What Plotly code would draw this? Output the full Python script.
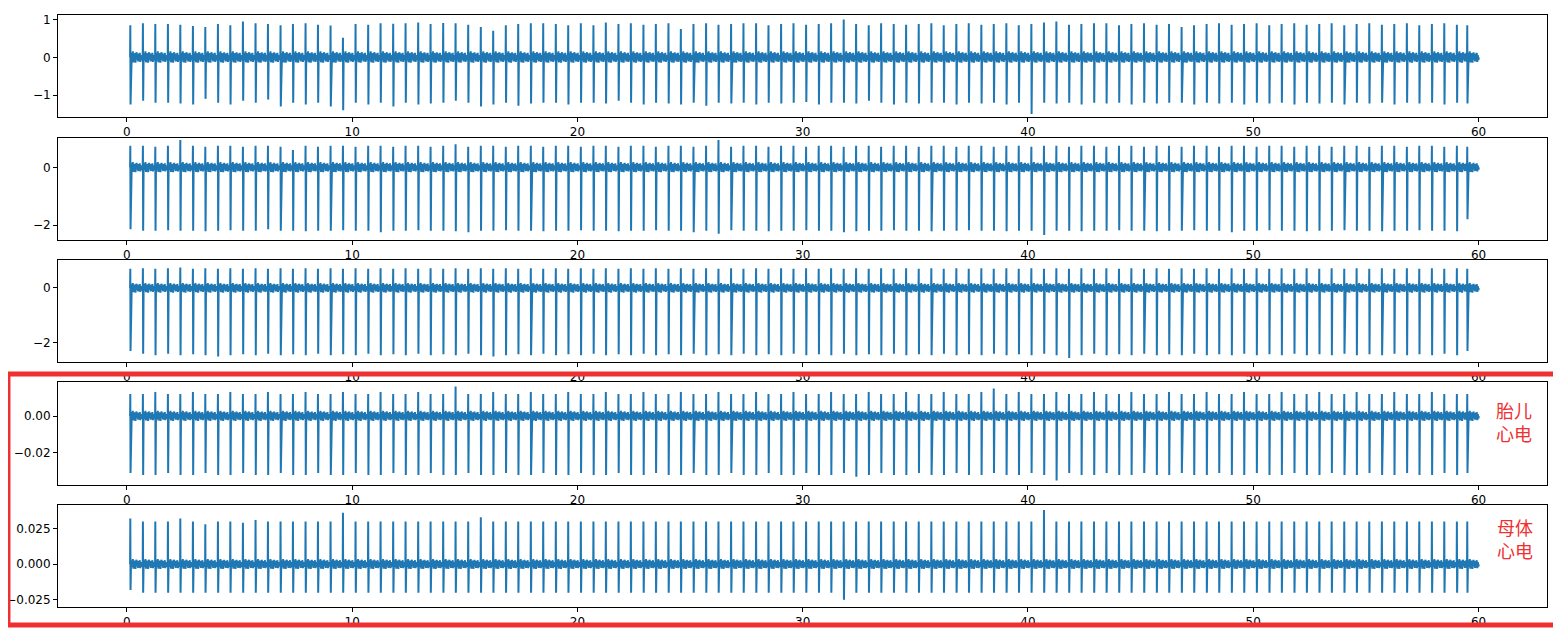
import plotly.graph_objects as go

# beat times (s)
beat_times = [0.15, 0.71, 1.26, 1.82, 2.37, 2.93, 3.48, 4.04, 4.59, 5.15, 5.71, 6.26, 6.82, 7.37, 7.93, 8.48, 9.04, 9.59,
              10.15, 10.71, 11.26, 11.82, 12.37, 12.93, 13.48, 14.04, 14.59, 15.15, 15.71, 16.26, 16.82, 17.37, 17.93, 18.48,
              19.04, 19.59, 20.15, 20.71, 21.26, 21.82, 22.37, 22.93, 23.48, 24.04, 24.59, 25.15, 25.71, 26.26, 26.82, 27.37,
              27.93, 28.48, 29.04, 29.59, 30.15, 30.71, 31.26, 31.82, 32.37, 32.93, 33.48, 34.04, 34.59, 35.15, 35.71, 36.26,
              36.82, 37.37, 37.93, 38.48, 39.04, 39.59, 40.15, 40.71, 41.26, 41.82, 42.37, 42.93, 43.48, 44.04, 44.59, 45.15,
              45.71, 46.26, 46.82, 47.37, 47.93, 48.48, 49.04, 49.59, 50.15, 50.71, 51.26, 51.82, 52.37, 52.93, 53.48, 54.04,
              54.59, 55.15, 55.71, 56.26, 56.82, 57.37, 57.93, 58.48, 59.04, 59.5]

# per-panel R-peak (up) and S (down) amplitudes, one per beat
p1_peak = [0.85, 0.9, 0.88, 0.88, 0.86, 0.83, 0.8, 0.88, 0.85, 0.95, 0.9, 0.88, 0.85, 0.88, 0.9, 0.86, 0.84, 0.52, 0.88, 0.86,
           0.9, 0.89, 0.9, 0.92, 0.88, 0.91, 0.9, 0.86, 0.8, 0.7, 0.85, 0.88, 0.9, 0.9, 0.88, 0.85, 0.9, 0.85, 0.92, 0.88,
           0.9, 0.86, 0.88, 0.9, 0.75, 0.88, 0.9, 0.86, 0.88, 0.9, 0.9, 0.85, 0.88, 0.9, 0.86, 0.88, 0.9, 1.0, 0.88, 0.85,
           0.9, 0.88, 0.86, 0.88, 0.9, 0.85, 0.88, 0.9, 0.86, 0.88, 0.9, 0.85, 0.88, 0.92, 0.95, 0.86, 0.88, 0.9, 0.9, 0.85,
           0.88, 0.9, 0.86, 0.88, 0.8, 0.85, 0.88, 0.9, 0.86, 0.88, 0.9, 0.85, 0.88, 0.9, 0.86, 0.88, 0.9, 0.85, 0.88, 0.9,
           0.86, 0.88, 0.9, 0.85, 0.88, 0.9, 0.86, 0.85]
p1_trough = [-1.25, -1.15, -1.2, -1.2, -1.22, -1.25, -1.1, -1.2, -1.25, -1.15, -1.2, -1.12, -1.3, -1.2, -1.25, -1.2, -1.3, -1.4, -1.2, -1.25,
             -1.2, -1.3, -1.2, -1.25, -1.22, -1.2, -1.15, -1.2, -1.3, -1.25, -1.2, -1.28, -1.22, -1.2, -1.2, -1.25, -1.2, -1.2, -1.22, -1.15,
             -1.2, -1.25, -1.2, -1.22, -1.25, -1.2, -1.28, -1.2, -1.22, -1.2, -1.25, -1.2, -1.22, -1.2, -1.18, -1.25, -1.2, -1.2, -1.22, -1.15,
             -1.2, -1.25, -1.2, -1.22, -1.2, -1.2, -1.25, -1.2, -1.22, -1.2, -1.25, -1.2, -1.5, -1.2, -1.22, -1.2, -1.25, -1.2, -1.22, -1.2,
             -1.25, -1.2, -1.22, -1.2, -1.2, -1.25, -1.2, -1.22, -1.2, -1.25, -1.2, -1.22, -1.2, -1.25, -1.2, -1.22, -1.2, -1.25, -1.2, -1.22,
             -1.2, -1.25, -1.2, -1.22, -1.2, -1.25, -1.2, -1.22]
p2_peak = [0.75, 0.75, 0.72, 0.75, 0.95, 0.75, 0.72, 0.75, 0.75, 0.72, 0.75, 0.75, 0.72, 0.6, 0.75, 0.72, 0.75, 0.75, 0.72, 0.75,
           0.75, 0.72, 0.75, 0.75, 0.72, 0.75, 0.8, 0.72, 0.75, 0.75, 0.72, 0.75, 0.75, 0.72, 0.75, 0.75, 0.72, 0.75, 0.75, 0.72,
           0.75, 0.75, 0.72, 0.75, 0.75, 0.72, 0.75, 0.95, 0.72, 0.75, 0.75, 0.72, 0.75, 0.75, 0.72, 0.75, 0.75, 0.72, 0.75, 0.75,
           0.72, 0.75, 0.75, 0.72, 0.75, 0.75, 0.72, 0.75, 0.75, 0.72, 0.75, 0.75, 0.72, 0.75, 0.75, 0.72, 0.75, 0.75, 0.72, 0.75,
           0.75, 0.72, 0.75, 0.75, 0.72, 0.75, 0.75, 0.72, 0.75, 0.75, 0.72, 0.75, 0.75, 0.72, 0.75, 0.75, 0.72, 0.75, 0.75, 0.72,
           0.75, 0.75, 0.72, 0.75, 0.75, 0.72, 0.75, 0.72]
p2_trough = [-2.15, -2.2, -2.2, -2.18, -2.2, -2.2, -2.22, -2.2, -2.18, -2.2, -2.2, -2.15, -2.2, -2.2, -2.22, -2.2, -2.2, -2.18, -2.2, -2.2,
             -2.25, -2.2, -2.2, -2.18, -2.2, -2.2, -2.22, -2.25, -2.2, -2.2, -2.18, -2.2, -2.2, -2.22, -2.2, -2.2, -2.18, -2.2, -2.2, -2.22,
             -2.2, -2.2, -2.18, -2.2, -2.2, -2.25, -2.2, -2.3, -2.18, -2.2, -2.2, -2.22, -2.2, -2.2, -2.18, -2.2, -2.2, -2.25, -2.22, -2.2,
             -2.2, -2.18, -2.2, -2.2, -2.22, -2.2, -2.2, -2.18, -2.2, -2.2, -2.22, -2.2, -2.2, -2.35, -2.2, -2.2, -2.22, -2.2, -2.2, -2.18,
             -2.2, -2.2, -2.22, -2.2, -2.2, -2.18, -2.2, -2.2, -2.25, -2.2, -2.2, -2.18, -2.2, -2.2, -2.22, -2.2, -2.2, -2.18, -2.2, -2.2,
             -2.22, -2.2, -2.2, -2.18, -2.2, -2.2, -2.22, -1.8]
p3_peak = [0.7, 0.72, 0.7, 0.72, 0.75, 0.7, 0.72, 0.7, 0.72, 0.7, 0.72, 0.7, 0.72, 0.7, 0.72, 0.7, 0.72, 0.7, 0.72, 0.7,
           0.72, 0.7, 0.72, 0.7, 0.72, 0.7, 0.72, 0.7, 0.72, 0.7, 0.72, 0.7, 0.72, 0.7, 0.72, 0.7, 0.72, 0.7, 0.72, 0.7,
           0.72, 0.7, 0.72, 0.7, 0.72, 0.7, 0.72, 0.7, 0.72, 0.7, 0.72, 0.7, 0.72, 0.7, 0.72, 0.7, 0.72, 0.7, 0.72, 0.7,
           0.72, 0.7, 0.72, 0.7, 0.72, 0.7, 0.72, 0.7, 0.72, 0.7, 0.72, 0.7, 0.72, 0.7, 0.72, 0.7, 0.72, 0.7, 0.72, 0.7,
           0.72, 0.7, 0.72, 0.7, 0.72, 0.7, 0.72, 0.7, 0.72, 0.7, 0.72, 0.7, 0.72, 0.7, 0.72, 0.7, 0.72, 0.7, 0.72, 0.7,
           0.72, 0.7, 0.72, 0.7, 0.72, 0.7, 0.72, 0.7]
p3_trough = [-2.3, -2.4, -2.45, -2.4, -2.45, -2.42, -2.45, -2.5, -2.45, -2.42, -2.45, -2.4, -2.45, -2.42, -2.45, -2.4, -2.45, -2.42, -2.45, -2.4,
             -2.45, -2.42, -2.45, -2.4, -2.45, -2.42, -2.45, -2.4, -2.45, -2.5, -2.45, -2.42, -2.45, -2.4, -2.45, -2.42, -2.45, -2.4, -2.45, -2.42,
             -2.45, -2.4, -2.45, -2.42, -2.45, -2.4, -2.45, -2.42, -2.45, -2.4, -2.45, -2.42, -2.45, -2.4, -2.45, -2.42, -2.45, -2.4, -2.45, -2.42,
             -2.45, -2.4, -2.45, -2.42, -2.45, -2.4, -2.45, -2.42, -2.45, -2.4, -2.45, -2.42, -2.45, -2.4, -2.45, -2.55, -2.45, -2.4, -2.45, -2.42,
             -2.45, -2.4, -2.45, -2.42, -2.45, -2.4, -2.45, -2.42, -2.45, -2.4, -2.45, -2.42, -2.45, -2.4, -2.45, -2.42, -2.45, -2.4, -2.45, -2.42,
             -2.45, -2.4, -2.45, -2.42, -2.45, -2.4, -2.45, -2.3]
p4_peak = [0.012, 0.012, 0.013, 0.012, 0.012, 0.013, 0.012, 0.012, 0.013, 0.012, 0.012, 0.013, 0.012, 0.012, 0.013, 0.012, 0.012, 0.013, 0.012, 0.012,
           0.013, 0.012, 0.012, 0.013, 0.012, 0.012, 0.016, 0.012, 0.012, 0.013, 0.012, 0.012, 0.013, 0.012, 0.012, 0.013, 0.012, 0.012, 0.013, 0.012,
           0.012, 0.013, 0.012, 0.012, 0.013, 0.012, 0.012, 0.013, 0.012, 0.012, 0.013, 0.012, 0.012, 0.013, 0.012, 0.012, 0.013, 0.012, 0.012, 0.013,
           0.012, 0.012, 0.013, 0.012, 0.012, 0.013, 0.012, 0.012, 0.013, 0.015, 0.012, 0.013, 0.012, 0.012, 0.013, 0.012, 0.012, 0.013, 0.012, 0.012,
           0.013, 0.012, 0.012, 0.013, 0.012, 0.012, 0.013, 0.012, 0.012, 0.013, 0.012, 0.012, 0.013, 0.012, 0.012, 0.013, 0.012, 0.012, 0.013, 0.012,
           0.012, 0.013, 0.012, 0.012, 0.013, 0.012, 0.012, 0.012]
p4_trough = [-0.031, -0.032, -0.032, -0.031, -0.032, -0.032, -0.031, -0.032, -0.032, -0.031, -0.032, -0.032, -0.031, -0.032, -0.032, -0.031, -0.032, -0.032, -0.031, -0.032,
             -0.032, -0.031, -0.032, -0.032, -0.031, -0.032, -0.032, -0.031, -0.032, -0.032, -0.031, -0.032, -0.032, -0.031, -0.032, -0.032, -0.031, -0.032, -0.032, -0.031,
             -0.032, -0.032, -0.031, -0.032, -0.032, -0.031, -0.032, -0.032, -0.031, -0.032, -0.032, -0.031, -0.032, -0.032, -0.031, -0.032, -0.032, -0.031, -0.033, -0.032,
             -0.031, -0.032, -0.032, -0.031, -0.032, -0.032, -0.031, -0.032, -0.032, -0.031, -0.032, -0.032, -0.031, -0.032, -0.035, -0.031, -0.032, -0.032, -0.031, -0.032,
             -0.032, -0.031, -0.032, -0.032, -0.031, -0.032, -0.032, -0.031, -0.032, -0.032, -0.031, -0.032, -0.032, -0.031, -0.032, -0.032, -0.031, -0.032, -0.032, -0.031,
             -0.032, -0.032, -0.031, -0.032, -0.032, -0.031, -0.032, -0.031]
p5_peak = [0.032, 0.03, 0.03, 0.03, 0.032, 0.03, 0.028, 0.03, 0.03, 0.029, 0.031, 0.03, 0.03, 0.03, 0.03, 0.03, 0.03, 0.036, 0.03, 0.03,
           0.03, 0.03, 0.03, 0.03, 0.03, 0.03, 0.03, 0.03, 0.033, 0.03, 0.03, 0.03, 0.03, 0.03, 0.03, 0.03, 0.03, 0.03, 0.03, 0.03,
           0.03, 0.03, 0.03, 0.03, 0.03, 0.03, 0.03, 0.03, 0.03, 0.03, 0.03, 0.03, 0.03, 0.03, 0.03, 0.03, 0.03, 0.03, 0.03, 0.03,
           0.03, 0.03, 0.03, 0.03, 0.03, 0.03, 0.03, 0.03, 0.03, 0.03, 0.03, 0.03, 0.03, 0.038, 0.03, 0.03, 0.03, 0.03, 0.03, 0.03,
           0.03, 0.03, 0.03, 0.03, 0.03, 0.03, 0.03, 0.03, 0.03, 0.03, 0.03, 0.03, 0.03, 0.03, 0.03, 0.03, 0.03, 0.03, 0.03, 0.03,
           0.03, 0.03, 0.03, 0.03, 0.03, 0.03, 0.03, 0.03]
p5_trough = [-0.018, -0.02, -0.02, -0.02, -0.02, -0.02, -0.02, -0.02, -0.02, -0.02, -0.02, -0.02, -0.02, -0.02, -0.02, -0.02, -0.02, -0.02, -0.02, -0.02,
             -0.02, -0.02, -0.02, -0.02, -0.02, -0.02, -0.02, -0.02, -0.02, -0.02, -0.02, -0.02, -0.02, -0.02, -0.02, -0.02, -0.02, -0.02, -0.02, -0.02,
             -0.02, -0.02, -0.02, -0.02, -0.02, -0.02, -0.02, -0.02, -0.02, -0.02, -0.02, -0.02, -0.02, -0.02, -0.02, -0.02, -0.02, -0.025, -0.02, -0.02,
             -0.02, -0.02, -0.02, -0.02, -0.02, -0.02, -0.02, -0.02, -0.02, -0.02, -0.02, -0.02, -0.02, -0.02, -0.02, -0.02, -0.02, -0.02, -0.02, -0.02,
             -0.02, -0.02, -0.02, -0.02, -0.02, -0.02, -0.02, -0.02, -0.02, -0.02, -0.02, -0.02, -0.02, -0.02, -0.02, -0.02, -0.02, -0.02, -0.02, -0.02,
             -0.02, -0.02, -0.02, -0.02, -0.02, -0.02, -0.02, -0.02]

# baseline wiggle between beats, as a fraction of each panel's noise level
baseline_shape = [0.2, 1.0, -0.7, 1.3, -1.1, 0.4, -0.2, 0.9, -1.2, 0.6, 1.1, -0.5, 0.3, -0.9, 0.8, -0.4, 1.0, -1.0, 0.5, -0.6, 0.0]
noise_levels = [0.12, 0.14, 0.14, 0.0022, 0.0028]

panels = [(p1_peak, p1_trough), (p2_peak, p2_trough), (p3_peak, p3_trough),
          (p4_peak, p4_trough), (p5_peak, p5_trough)]

y_ranges = [[-1.58, 1.12], [-2.52, 1.02], [-2.7, 1.02], [-0.0375, 0.0185], [-0.03, 0.0415]]
y_ticks = [[-1, 0, 1], [-2, 0], [-2, 0], [-0.02, 0.0], [-0.025, 0.0, 0.025]]
y_fmt = ["d", "d", "d", ".2f", ".3f"]

# the page body adds an 8px offset, so the figure is sized to fit inside it
OFF = 8
W, H = 1545, 620
MT, MB = 7, 21
PH = H - MT - MB
rows_px = [(15, 117), (138, 240), (260, 362), (382, 485), (505, 607)]


def py(p):
    # screenshot pixel row -> paper fraction of the plot area
    return (H - MB - (p - OFF)) / PH


fig = go.Figure()
layout = {}
for r, (peaks, troughs) in enumerate(panels):
    xs, ys = [], []
    nl = noise_levels[r]
    for i, t in enumerate(beat_times):
        xs += [t - 0.01, t, t + 0.01, t + 0.03]
        ys += [0, peaks[i], troughs[i], 0]
        step = 0.5 / len(baseline_shape)
        for k, v in enumerate(baseline_shape):
            xs.append(t + 0.04 + k * step)
            ys.append(v * nl)
    n = "" if r == 0 else str(r + 1)
    fig.add_trace(go.Scatter(x=xs, y=ys, mode="lines", line=dict(color="#1f77b4", width=2),
                             showlegend=False, xaxis="x" + n, yaxis="y" + n))
    top, bot = rows_px[r]
    common = dict(showgrid=False, zeroline=False, showline=True, mirror=True, linecolor="black",
                  ticks="outside", ticklen=4, tickcolor="black", automargin=False)
    layout["xaxis" + n] = dict(range=[-3.06, 63.04], tickvals=[0, 10, 20, 30, 40, 50, 60],
                               domain=[0, 1], anchor="y" + n, **common)
    layout["yaxis" + n] = dict(range=y_ranges[r], tickvals=y_ticks[r], tickformat=y_fmt[r],
                               domain=[py(bot), py(top)], anchor="x" + n, **common)

fig.update_layout(**layout)

fig.add_shape(type="rect", xref="paper", yref="paper", x0=-0.0336, x1=1.006, y0=py(625), y1=py(374),
              line=dict(color="#f03030", width=5))
fig.add_annotation(text="胎儿<br>心电", xref="paper", yref="paper", x=0.991, y=py(448), showarrow=False,
                   font=dict(color="#f03030", size=18, family="Noto Sans CJK SC"))
fig.add_annotation(text="母体<br>心电", xref="paper", yref="paper", x=0.992, y=py(565), showarrow=False,
                   font=dict(color="#f03030", size=18, family="Noto Sans CJK SC"))

fig.update_layout(width=W, height=H, margin=dict(l=50, r=6, t=MT, b=MB),
                  plot_bgcolor="white", paper_bgcolor="white",
                  font=dict(family="DejaVu Sans", size=12, color="black"))

fig.write_html("out.html")
